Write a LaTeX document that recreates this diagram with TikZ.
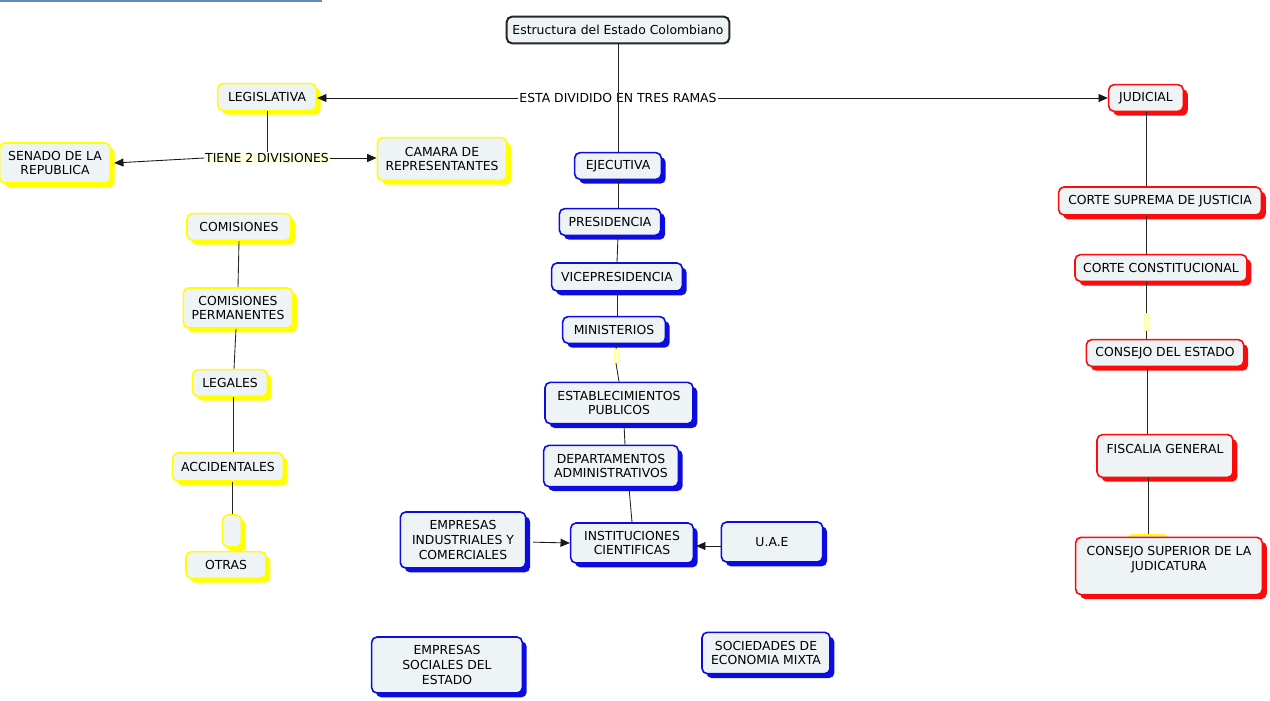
\documentclass[tikz,border=0pt]{standalone}
\usepackage{fontspec}
\setmainfont{DejaVu Sans}
\usetikzlibrary{arrows.meta, positioning, calc, shadows}
\definecolor{boxfill}{RGB}{238,243,246}
\definecolor{legisyellow}{RGB}{255,255,0}
\definecolor{ejecblue}{RGB}{12,12,225}
\definecolor{judired}{RGB}{250,12,12}
\definecolor{phrasefill}{RGB}{255,255,222}
\definecolor{topline}{RGB}{96,136,184}
\tikzset{
    base/.style = {rectangle, rounded corners=4pt, fill=boxfill, line width=1.2pt, align=center, inner sep=1pt, text=black, font=\fontsize{9.3}{11.2}\selectfont},
    legis/.style = {base, draw=legisyellow, drop shadow={shadow xshift=3.3pt, shadow yshift=-3.3pt, fill=legisyellow, opacity=1}},
    ejec/.style = {base, draw=ejecblue, drop shadow={shadow xshift=3.3pt, shadow yshift=-3.3pt, fill=ejecblue, opacity=1}},
    judi/.style = {base, draw=judired, drop shadow={shadow xshift=3.3pt, shadow yshift=-3.3pt, fill=judired, opacity=1}},
    root/.style = {base, draw=black!85, line width=1.5pt},
    phrase/.style = {rectangle, inner sep=1pt, text=black, font=\fontsize{9.3}{11.2}\selectfont},
    gap/.style = {rectangle, fill=phrasefill, draw=legisyellow!40, line width=0.4pt, inner sep=0pt},
    arrow/.style = {-{Triangle[length=7pt, width=6pt]}, line width=0.65pt, draw=black!90},
    link/.style = {line width=0.65pt, draw=black!85}
}

\begin{document}
\begin{tikzpicture}[x=0.75pt, y=-0.75pt]
        \useasboundingbox (0,0) rectangle (1270,700);
        \draw [topline, line width=1.5pt] (0,1) -- (322,1);

        % Root
        \node (estado) [root, minimum width=167pt, minimum height=20pt] at (618,30) {Estructura del Estado Colombiano};
        \node (ramas) [phrase] at (618,98) {ESTA DIVIDIDO EN TRES RAMAS};

        % Rama legislativa
        \node (legislativa) [legis, minimum width=74pt, minimum height=20pt] at (267,97) {LEGISLATIVA};
        \node (divisiones) [phrase, fill=phrasefill, inner sep=0.5pt] at (267,158) {TIENE 2 DIVISIONES};
        \node (senado) [legis, minimum width=83pt, minimum height=30pt] at (55,163) {SENADO DE LA\\REPUBLICA};
        \node (camara) [legis, minimum width=97pt, minimum height=32pt] at (442,159) {CAMARA DE\\REPRESENTANTES};
        \node (comisiones) [legis, minimum width=78pt, minimum height=20pt] at (239,227) {COMISIONES};
        \node (permanentes) [legis, minimum width=82pt, minimum height=30pt] at (238,308) {COMISIONES\\PERMANENTES};
        \node (legales) [legis, minimum width=56pt, minimum height=20pt] at (230,383) {LEGALES};
        \node (accidentales) [legis, minimum width=83pt, minimum height=21pt] at (228,467) {ACCIDENTALES};
        \node (vacio) [legis, minimum width=14pt, minimum height=24pt] at (232,531) {};
        \node (otras) [legis, minimum width=60pt, minimum height=20pt] at (226,565) {OTRAS};

        % Rama ejecutiva
        \node (ejecutiva) [ejec, minimum width=65pt, minimum height=20pt] at (618,166) {EJECUTIVA};
        \node (presidencia) [ejec, minimum width=76pt, minimum height=20pt] at (610,222) {PRESIDENCIA};
        \node (vice) [ejec, minimum width=98pt, minimum height=21pt] at (617,277) {VICEPRESIDENCIA};
        \node (ministerios) [ejec, minimum width=77pt, minimum height=20pt] at (614,330) {MINISTERIOS};
        \node (gapejec) [gap, minimum width=3pt, minimum height=10.5pt] at (616,356) {};
        \node (establecimientos) [ejec, minimum width=111pt, minimum height=31pt] at (619,403) {ESTABLECIMIENTOS\\PUBLICOS};
        \node (departamentos) [ejec, minimum width=101pt, minimum height=31pt] at (611,466) {DEPARTAMENTOS\\ADMINISTRATIVOS};
        \node (instituciones) [ejec, minimum width=92pt, minimum height=30pt] at (632,543) {INSTITUCIONES\\CIENTIFICAS};
        \node (industriales) [ejec, minimum width=94pt, minimum height=42pt] at (463,540) {EMPRESAS\\INDUSTRIALES Y\\COMERCIALES};
        \node (uae) [ejec, minimum width=76pt, minimum height=30pt] at (772,542) {U.A.E};
        \node (sociales) [ejec, minimum width=113pt, minimum height=42pt] at (447,665) {EMPRESAS\\SOCIALES DEL\\ESTADO};
        \node (mixta) [ejec, minimum width=96pt, minimum height=31pt] at (766,653) {SOCIEDADES DE\\ECONOMIA MIXTA};

        % Rama judicial
        \node (judicial) [judi, minimum width=56pt, minimum height=20pt] at (1146,98) {JUDICIAL};
        \node (suprema) [judi, minimum width=152pt, minimum height=21pt] at (1160,201) {CORTE SUPREMA DE JUSTICIA};
        \node (constitucional) [judi, minimum width=129pt, minimum height=20pt] at (1161,268) {CORTE CONSTITUCIONAL};
        \node (gapjudi) [gap, minimum width=3pt, minimum height=12.5pt] at (1146,322) {};
        \node (consejo) [judi, minimum width=118pt, minimum height=20pt] at (1165,353) {CONSEJO DEL ESTADO};
        \node (fiscalia) [judi, minimum width=102pt, minimum height=32pt] at (1165,456) {FISCALIA GENERAL\\ \mbox{}};
        \node (gapsuperior) [base, draw=legisyellow, minimum width=31pt, minimum height=18pt] at (1148,547) {};
        \node (superior) [judi, minimum width=140pt, minimum height=43pt] at (1169,566) {CONSEJO SUPERIOR DE LA\\JUDICATURA\\ \mbox{}};

        % Tres ramas
        \draw [link] (estado.south) -- (ejecutiva.north);
        \draw [arrow] (ramas.west) -- (ramas.west -| legislativa.east);
        \draw [arrow] (ramas.east) -- (ramas.east -| judicial.west);

        % Conexiones legislativa
        \draw [link] (legislativa.south) -- (divisiones.north);
        \draw [arrow] (divisiones.west) -- ($(senado.east)+(3,0)$);
        \draw [arrow] (divisiones.east) -- (divisiones.east -| camara.west);
        \draw [link] (comisiones.south) -- (permanentes.north);
        \draw [link] ($(permanentes.south)+(-2,0)$) -- ($(legales.north)+(4,0)$);
        \draw [link] ($(legales.south)+(3,0)$) -- ($(accidentales.north)+(5,0)$);
        \draw [link] ($(accidentales.south)+(4,0)$) -- (vacio.north);

        % Conexiones ejecutiva
        \draw [link] (ejecutiva.south) -- (ejecutiva.south |- presidencia.north);
        \draw [link] (ejecutiva.south |- presidencia.south) -- (vice.north);
        \draw [link] (vice.south) -- (vice.south |- ministerios.north);
        \draw [link] (vice.south |- ministerios.south) -- (gapejec.north);
        \draw [link] (gapejec.south) -- (establecimientos.north);
        \draw [link] ($(establecimientos.south)+(5,0)$) -- ($(departamentos.north)+(14,0)$);
        \draw [link] ($(departamentos.south)+(18,0)$) -- (instituciones.north);
        \draw [arrow, shorten <=5pt] ($(industriales.east)+(0,2)$) -- (instituciones.west);
        \draw [arrow] ($(uae.west)+(0,4)$) -- ($(instituciones.east)+(2,3)$);

        % Conexiones judicial
        \draw [link] (judicial.south) -- (judicial.south |- suprema.north);
        \draw [link] (judicial.south |- suprema.south) -- (judicial.south |- constitucional.north);
        \draw [link] (judicial.south |- constitucional.south) -- (gapjudi.north);
        \draw [link] (gapjudi.south) -- (gapjudi.south |- consejo.north);
        \draw [link] ($(gapjudi.south |- consejo.south)+(1,0)$) -- ($(gapjudi.south |- fiscalia.north)+(1,0)$);
        \draw [link] ($(gapjudi.south |- fiscalia.south)+(2,0)$) -- (gapsuperior.north);

    \end{tikzpicture}
\end{document}
